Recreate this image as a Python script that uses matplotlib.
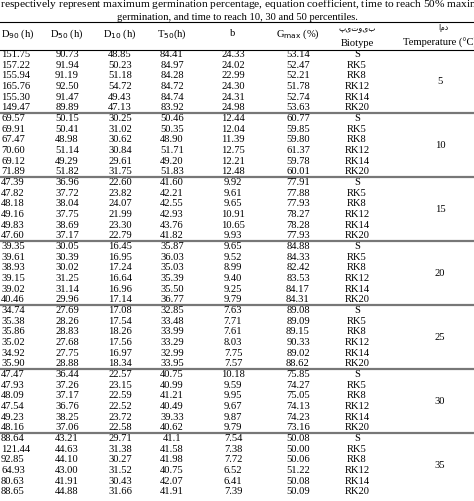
import matplotlib.pyplot as plt

plt.rcParams['font.family'] = ['Liberation Serif', 'DejaVu Sans']

temperatures = ['5', '10', '15', '20', '25', '30', '35']
biotypes = ['S', 'RK5', 'RK8', 'RK12', 'RK14', 'RK20']

d90 = ['151.75', '157.22', '155.94', '165.76', '155.30', '149.47',
       '69.57', '69.91', '67.47', '70.60', '69.12', '71.89',
       '47.39', '47.82', '48.18', '49.16', '49.83', '47.60',
       '39.35', '39.61', '38.93', '39.15', '39.02', '40.46',
       '34.74', '35.38', '35.86', '35.02', '34.92', '35.90',
       '47.47', '47.93', '48.09', '47.54', '49.23', '48.16',
       '88.64', '121.44', '92.85', '64.93', '80.63', '88.65']
d50 = ['90.73', '91.94', '91.19', '92.50', '91.47', '89.89',
       '50.15', '50.41', '48.98', '51.14', '49.29', '51.82',
       '36.96', '37.72', '38.04', '37.75', '38.69', '37.17',
       '30.05', '30.39', '30.02', '31.25', '31.14', '29.96',
       '27.69', '28.26', '28.83', '27.68', '27.75', '28.88',
       '36.44', '37.26', '37.17', '36.76', '38.25', '37.06',
       '43.21', '44.63', '44.10', '43.00', '41.91', '44.88']
d10 = ['48.85', '50.23', '51.18', '54.72', '49.43', '47.13',
       '30.25', '31.02', '30.62', '30.84', '29.61', '31.75',
       '22.60', '23.82', '24.07', '21.99', '23.30', '22.79',
       '16.45', '16.95', '17.24', '16.64', '16.96', '17.14',
       '17.08', '17.54', '18.26', '17.56', '16.97', '18.34',
       '22.57', '23.15', '22.59', '22.52', '23.72', '22.58',
       '29.71', '31.38', '30.27', '31.52', '30.43', '31.66']
t50 = ['84.41', '84.97', '84.28', '84.72', '84.74', '83.92',
       '50.46', '50.35', '48.90', '51.71', '49.20', '51.83',
       '41.60', '42.21', '42.55', '42.93', '43.76', '41.82',
       '35.87', '36.03', '35.03', '35.39', '35.50', '36.77',
       '32.85', '33.48', '33.99', '33.29', '32.99', '33.95',
       '40.75', '40.99', '41.21', '40.49', '39.33', '40.62',
       '41.1', '41.58', '41.98', '40.75', '42.07', '41.91']
b = ['24.33', '24.02', '22.99', '24.30', '24.31', '24.98',
     '12.44', '12.04', '11.39', '12.75', '12.21', '12.48',
     '9.92', '9.61', '9.65', '10.91', '10.65', '9.93',
     '9.65', '9.52', '8.99', '9.40', '9.25', '9.79',
     '7.63', '7.71', '7.61', '8.03', '7.75', '7.57',
     '10.18', '9.59', '9.95', '9.67', '9.87', '9.79',
     '7.54', '7.38', '7.72', '6.52', '6.41', '7.39']
gmax = ['53.14', '52.47', '52.21', '51.78', '52.74', '53.63',
        '60.77', '59.85', '59.80', '61.37', '59.78', '60.01',
        '77.91', '77.88', '77.93', '78.27', '78.28', '77.93',
        '84.88', '84.33', '82.42', '83.53', '84.17', '84.31',
        '89.08', '89.09', '89.15', '90.33', '89.02', '88.62',
        '75.85', '74.27', '75.05', '74.13', '74.23', '73.16',
        '50.08', '50.00', '50.06', '51.22', '50.08', '50.09']

W, H = 474, 501
fig = plt.figure(figsize=(W / 100, H / 100), dpi=100)
FS = 7.6


def txt(x, y, s, ha='center', fs=FS, **kw):
    fig.text(x / W, 1 - y / H, s, ha=ha, va='center', fontsize=fs, **kw)


def hline(y, lw=0.8, color='black'):
    fig.add_artist(plt.Line2D([0, 1], [1 - y / H] * 2, lw=lw, color=color,
                              transform=fig.transFigure))


txt(237, 4, 'D$_{50}$ respectively represent maximum germination percentage, '
    'equation coefficient, time to reach 50% maximum', fs=8.2)
txt(237, 18, 'germination, and time to reach 10, 30 and 50 percentiles.')
hline(22)

xs = [1, 67, 120, 172, 233, 298, 357, 440]
headers = ['D$_{90}$ (h)', 'D$_{50}$ (h)', 'D$_{10}$ (h)', 'T$_{50}$(h)', 'b',
           'G$_{\\max}$ (%)']
for i, h in enumerate(headers):
    txt(xs[i], 34, h, ha='left' if i == 0 else 'center')
txt(xs[6], 29, 'بیوتیپ'[::-1], fs=5.5, family=['DejaVu Sans'])
txt(xs[6], 43, 'Biotype')
txt(xs[7] + 3, 28, 'دما'[::-1], fs=5.5, family=['DejaVu Sans'])
txt(xs[7], 43, 'Temperature (°C)')
hline(49.5)

cols = [d90, d50, d10, t50, b, gmax]
y0, rh = 54.5, 10.67
for r in range(len(d90)):
    y = y0 + r * rh
    for i, c in enumerate(cols):
        txt(xs[i], y, c[r], ha='left' if i == 0 else 'center')
    txt(xs[6], y, biotypes[r % 6])
for g, t in enumerate(temperatures):
    txt(xs[7], y0 + (g * 6 + 2.5) * rh, t)
    if g > 0:
        hline(y0 + (g * 6 - 0.5) * rh, lw=1.6, color='#777777')

fig.savefig('out.png', dpi=100)
